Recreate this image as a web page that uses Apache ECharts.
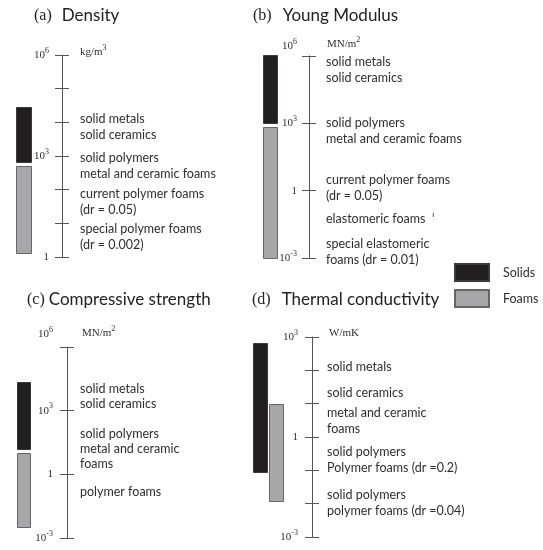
<!DOCTYPE html>
<html><head><meta charset="utf-8">
<script src="https://cdn.jsdelivr.net/npm/echarts@6/dist/echarts.min.js"></script>
<style>html,body{margin:0;padding:0;background:#fff}#c{width:543px;height:550px}</style>
</head><body><div id="c"></div>
<script>
// ---------------- data ----------------
const panelTags = ['(a)', '(b)', '(c)', '(d)'];
const panelNames = ['Density', 'Young Modulus', 'Compressive strength', 'Thermal conductivity'];
const unitTexts = ['kg/m{s|3}', 'MN/m{s|2}', 'MN/m{s|2}', 'W/mK'];
const unitValues = [1.2e6, 3.3e6, 4.6e6, 1300];
const axisMin = [1, 1e-3, 1e-3, 1e-3];
const axisMax = [1e6, 1e6, 1e6, 1e3];
const axisLogBase = [10, 1000, 1000, 10];
const labelledExponents = [[0, 3, 6], [-3, 0, 3, 6], [-3, 0, 3, 6], [-3, 0, 3]];
const seriesNames = ['Solids', 'Foams'];

// [low, high] ranges of each material class
const densitySolids = [665, 28500];
const densityFoams = [1.3, 505];
const youngSolids = [1000, 1.1e6];
const youngFoams = [0.001, 720];
const strengthSolids = [16, 23000];
const strengthFoams = [0.0033, 10];
const conductivitySolids = [0.089, 660];
const conductivityFoams = [0.012, 10];

// annotation text and the scale value it sits at
const densityNotes = [
  ['solid metals\nsolid ceramics', 7200],
  ['solid polymers\nmetal and ceramic foams', 500],
  ['current polymer foams\n(dr = 0.05)', 43],
  ['special polymer foams\n(dr = 0.002)', 3.9]
];
const youngNotes = [
  ['solid metals\nsolid ceramics', 2.3e5],
  ['solid polymers\nmetal and ceramic foams', 480],
  ['current polymer foams\n(dr = 0.05)', 1.36],
  ['elastomeric foams  \u2071', 0.056],
  ['special elastomeric\nfoams (dr = 0.01)', 0.0019]
];
const strengthNotes = [
  ['solid metals\nsolid ceramics', 4900],
  ['solid polymers\nmetal and ceramic\nfoams', 15.6],
  ['polymer foams', 0.15]
];
const conductivityNotes = [
  ['solid metals', 126],
  ['solid ceramics', 21],
  ['metal and ceramic\nfoams', 3.1],
  ['solid polymers\nPolymer foams (dr =0.2)', 0.21],
  ['solid polymers\npolymer foams (dr =0.04)', 0.0105]
];

const solidsByPanel = [densitySolids, youngSolids, strengthSolids, conductivitySolids];
const foamsByPanel = [densityFoams, youngFoams, strengthFoams, conductivityFoams];
const notesByPanel = [densityNotes, youngNotes, strengthNotes, conductivityNotes];

// ---------------- layout ----------------
const layout = [
  {axisX: 62, top: 55, bottom: 257, solidX: [-46, -31], foamX: [-46, -31], noteDx: 18, unitDx: 18, margin: 13, lh: 16, raiseTop: 0, titleX: 34, titleY: 7, titleGap: 10},
  {axisX: 309, top: 56, bottom: 258, solidX: [-46, -32], foamX: [-46, -32], noteDx: 17, unitDx: 18, margin: 12, lh: 16, raiseTop: 20, titleX: 253, titleY: 7, titleGap: 11},
  {axisX: 67, top: 347, bottom: 538, solidX: [-50, -37], foamX: [-50, -37], noteDx: 13, unitDx: 15, margin: 14, lh: 15, raiseTop: 26, titleX: 27, titleY: 291, titleGap: 4},
  {axisX: 312, top: 337, bottom: 537, solidX: [-59, -45], foamX: [-43, -29], noteDx: 15, unitDx: 17, margin: 14, lh: 16, raiseTop: 0, titleX: 252, titleY: 291, titleGap: 11}
];
const SANS = 'Lato';
const SERIF = 'Liberation Serif';
const AXIS_COLOR = '#555';
const TEXT_COLOR = '#2e2e2e';
const BAR_STYLE = {
  Solids: {color: '#221f20', borderColor: '#3a3a3a', borderWidth: 1},
  Foams: {color: '#a7a7a9', borderColor: '#666', borderWidth: 1}
};

const grids = [], xAxes = [], yAxes = [], series = [], titles = [];

layout.forEach((L, i) => {
  grids.push({left: L.axisX, top: L.top, height: L.bottom - L.top, width: 200, containLabel: false});
  xAxes.push({gridIndex: i, type: 'value', min: 0, max: 200, show: false});
  const exps = labelledExponents[i];
  const topExp = Math.round(Math.log10(axisMax[i]));
  const baseAxis = {
    gridIndex: i, type: 'log', logBase: axisLogBase[i], min: axisMin[i], max: axisMax[i],
    position: 'left', splitLine: {show: false}
  };
  yAxes.push(Object.assign({}, baseAxis, {
    axisLine: {show: true, onZero: false, lineStyle: {color: AXIS_COLOR, width: 1}},
    axisTick: {show: true, inside: false, length: 7, lineStyle: {color: AXIS_COLOR, width: 1}},
    axisLabel: {
      show: true, margin: L.margin, showMinLabel: true, showMaxLabel: true,
      fontFamily: SERIF, fontSize: 11, color: TEXT_COLOR,
      formatter: function (v) {
        const e = Math.round(Math.log10(v));
        if (exps.indexOf(e) < 0) return '';
        const raise = (e === topExp && L.raiseTop) ? 'r' : '';
        if (e === 0) return raise ? '{b' + raise + '|1}' : '1';
        return '{b' + raise + '|10}{s' + raise + '|' + e + '}';
      },
      rich: {
        b: {fontFamily: SERIF, fontSize: 11, color: TEXT_COLOR},
        s: {fontFamily: SERIF, fontSize: 8, color: TEXT_COLOR, padding: [0, 0, 9, 0]},
        br: {fontFamily: SERIF, fontSize: 11, color: TEXT_COLOR, padding: [0, 0, L.raiseTop, 0]},
        sr: {fontFamily: SERIF, fontSize: 8, color: TEXT_COLOR, padding: [0, 0, L.raiseTop + 9, 0]}
      }
    }
  }));
  yAxes.push(Object.assign({}, baseAxis, {
    axisLine: {show: false, onZero: false},
    axisTick: {show: true, inside: true, length: 7, lineStyle: {color: AXIS_COLOR, width: 1}},
    axisLabel: {show: false}
  }));

  [['Solids', solidsByPanel[i], L.solidX], ['Foams', foamsByPanel[i], L.foamX]].forEach(([name, range, xr]) => {
    series.push({
      type: 'custom', name: name, xAxisIndex: i, yAxisIndex: i * 2, clip: false, silent: true,
      itemStyle: BAR_STYLE[name],
      encode: {x: 0, y: [1, 2]},
      data: [[0, range[0], range[1]]],
      renderItem: function (params, api) {
        const pTop = api.coord([xr[0], api.value(2)]);
        const pBot = api.coord([xr[1], api.value(1)]);
        return {
          type: 'rect',
          shape: {x: Math.round(pTop[0]) + 0.5, y: Math.round(pTop[1]) + 0.5,
                  width: Math.round(pBot[0] - pTop[0]), height: Math.round(pBot[1] - pTop[1])},
          style: api.style()
        };
      }
    });
  });

  const notes = notesByPanel[i];
  const noteData = notes.map(n => [0, n[1]]).concat([[0, unitValues[i]]]);
  series.push({
    type: 'custom', name: 'notes' + i, xAxisIndex: i, yAxisIndex: i * 2, clip: false, silent: true,
    encode: {x: 0, y: 1},
    data: noteData,
    renderItem: function (params, api) {
      const isUnit = params.dataIndex === notes.length;
      const p = api.coord([isUnit ? L.unitDx : L.noteDx, api.value(1)]);
      if (isUnit) {
        return {type: 'text', x: p[0], y: p[1], style: {
          text: unitTexts[i], fill: TEXT_COLOR, fontFamily: SERIF, fontSize: 11,
          align: 'left', verticalAlign: 'middle',
          rich: {s: {fontFamily: SERIF, fontSize: 8, fill: TEXT_COLOR, padding: [0, 0, 9, 0]}}
        }};
      }
      return {type: 'text', x: p[0], y: p[1], style: {
        text: notes[params.dataIndex][0], fill: TEXT_COLOR, fontFamily: SANS, fontSize: 12.5,
        lineHeight: L.lh, align: 'left', verticalAlign: 'middle'
      }};
    }
  });

  titles.push({
    left: L.titleX, top: L.titleY, padding: 0,
    text: '{p|' + panelTags[i] + '}{t|' + panelNames[i] + '}',
    textStyle: {fontWeight: 'normal', rich: {
      p: {fontFamily: SERIF, fontSize: 16, color: '#222', fontWeight: 'normal'},
      t: {fontFamily: SANS, fontSize: 17, color: '#222', fontWeight: 'normal', padding: [0, 0, 0, L.titleGap]}
    }}
  });
});

const chart = echarts.init(document.getElementById('c'), null, {renderer: 'canvas'});
chart.setOption({
  animation: false,
  backgroundColor: '#fff',
  title: titles,
  legend: {
    data: seriesNames, orient: 'vertical', left: 454, top: 263, padding: 0,
    itemWidth: 34, itemHeight: 17, itemGap: 7, icon: 'rect', selectedMode: false,
    textStyle: {fontFamily: SANS, fontSize: 12.5, color: TEXT_COLOR, padding: [0, 0, 0, 9]}
  },
  grid: grids,
  xAxis: xAxes,
  yAxis: yAxes,
  series: series
});
</script>
</body></html>
